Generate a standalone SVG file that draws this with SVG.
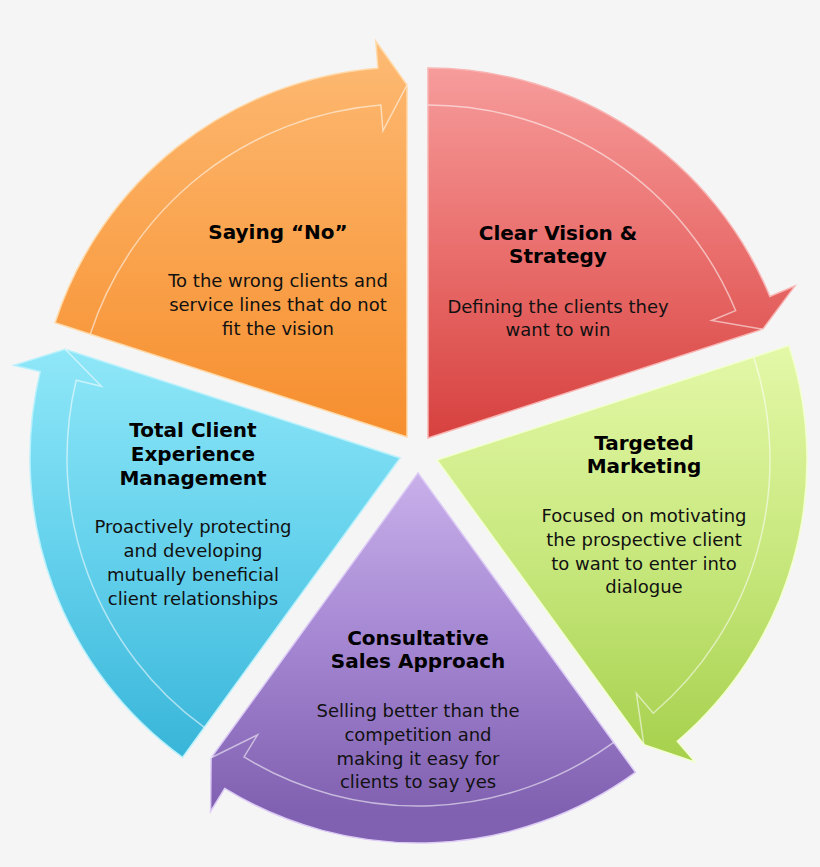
<svg xmlns="http://www.w3.org/2000/svg" width="820" height="867" viewBox="0 0 820 867">
  <defs>
    <linearGradient id="gOrange" gradientUnits="userSpaceOnUse" x1="0" y1="41" x2="0" y2="437">
      <stop offset="0" stop-color="#FDBA74"/>
      <stop offset="0.5" stop-color="#FAA44F"/>
      <stop offset="1" stop-color="#F68E2E"/>
    </linearGradient>
    <linearGradient id="gRed" gradientUnits="userSpaceOnUse" x1="0" y1="68" x2="0" y2="438">
      <stop offset="0" stop-color="#F69C9B"/>
      <stop offset="0.5" stop-color="#E96E6C"/>
      <stop offset="1" stop-color="#D6413F"/>
    </linearGradient>
    <linearGradient id="gGreen" gradientUnits="userSpaceOnUse" x1="0" y1="345" x2="0" y2="762">
      <stop offset="0" stop-color="#E4F8A8"/>
      <stop offset="0.5" stop-color="#C8E87E"/>
      <stop offset="1" stop-color="#A6D04C"/>
    </linearGradient>
    <linearGradient id="gPurple" gradientUnits="userSpaceOnUse" x1="0" y1="473" x2="0" y2="812">
      <stop offset="0" stop-color="#C9B0EA"/>
      <stop offset="0.5" stop-color="#A486D2"/>
      <stop offset="1" stop-color="#8060B0"/>
    </linearGradient>
    <linearGradient id="gBlue" gradientUnits="userSpaceOnUse" x1="0" y1="349" x2="0" y2="758">
      <stop offset="0" stop-color="#8FE7F8"/>
      <stop offset="0.5" stop-color="#64D1EC"/>
      <stop offset="1" stop-color="#38B5D9"/>
    </linearGradient>
  </defs>
  <style>
    .seg { stroke-width: 1.5; stroke-linejoin: miter; }
    .hl { fill: none; stroke: #FFFFFF; stroke-opacity: 0.55; stroke-width: 1.5; }
    .t { font-family: "DejaVu Sans", "Liberation Sans", sans-serif; font-weight: bold; font-size: 20px; fill: #000000; text-anchor: middle; }
    .b { font-family: "DejaVu Sans", "Liberation Sans", sans-serif; font-size: 18px; fill: #111111; text-anchor: middle; }
  </style>
  <rect x="0" y="0" width="820" height="867" fill="#F5F5F5"/>

  <g id="connectors"></g>

  <g id="node-saying-no">
    <path class="seg" fill="url(#gOrange)" stroke="#FFD9A8" d="M407,437 L55.11,322.66 A370,370 0 0 1 377.97,68.14 L375.85,41.22 L407,85 Z"/>
    <path class="hl" d="M90.30,334.10 A333,333 0 0 1 380.87,105.03 L382.91,130.94 L407,85"/>
    <text class="t" x="278" y="239">Saying “No”</text>
    <text class="b" x="278" y="287">To the wrong clients and</text>
    <text class="b" x="278" y="311">service lines that do not</text>
    <text class="b" x="278" y="335">fit the vision</text>
  </g>

  <g id="node-clear-vision">
    <path class="seg" fill="url(#gRed)" stroke="#F8B4B2" d="M428,438 L428,68 A370,370 0 0 1 769.84,296.41 L794.78,286.08 L762.77,329.22 Z"/>
    <path class="hl" d="M428,105 A333,333 0 0 1 735.65,310.57 L711.63,320.52 L762.77,329.22"/>
    <text class="t" x="558" y="240">Clear Vision &amp;</text>
    <text class="t" x="558" y="263">Strategy</text>
    <text class="b" x="558" y="313">Defining the clients they</text>
    <text class="b" x="558" y="336">want to win</text>
  </g>

  <g id="node-targeted-marketing">
    <path class="seg" fill="url(#gGreen)" stroke="#F2FFCF" d="M437,460 L788.89,345.66 A370,370 0 0 1 677.30,741.35 L694.83,761.88 L643.90,744.78 Z"/>
    <path class="hl" d="M753.70,357.10 A333,333 0 0 1 653.27,713.22 L636.38,693.45 L643.90,744.78"/>
    <text class="t" x="644" y="450">Targeted</text>
    <text class="t" x="644" y="473">Marketing</text>
    <text class="b" x="644" y="522">Focused on motivating</text>
    <text class="b" x="644" y="546">the prospective client</text>
    <text class="b" x="644" y="570">to want to enter into</text>
    <text class="b" x="644" y="593">dialogue</text>
  </g>

  <g id="node-consultative-sales">
    <path class="seg" fill="url(#gPurple)" stroke="#DCCBF5" d="M418,473 L635.48,772.34 A370,370 0 0 1 224.67,788.48 L210.57,811.50 L211.10,757.78 Z"/>
    <path class="hl" d="M613.73,742.40 A333,333 0 0 1 244.01,756.93 L257.59,734.76 L211.10,757.78"/>
    <text class="t" x="418" y="645">Consultative</text>
    <text class="t" x="418" y="668">Sales Approach</text>
    <text class="b" x="418" y="717">Selling better than the</text>
    <text class="b" x="418" y="741">competition and</text>
    <text class="b" x="418" y="765">making it easy for</text>
    <text class="b" x="418" y="788">clients to say yes</text>
  </g>

  <g id="node-total-client-experience">
    <path class="seg" fill="url(#gBlue)" stroke="#B8F1FC" d="M400,458 L182.52,757.34 A370,370 0 0 1 40.22,371.62 L13.97,365.32 L65.23,349.22 Z"/>
    <path class="hl" d="M204.27,727.40 A333,333 0 0 1 76.20,380.26 L101.48,386.33 L65.23,349.22"/>
    <text class="t" x="193" y="437">Total Client</text>
    <text class="t" x="193" y="461">Experience</text>
    <text class="t" x="193" y="485">Management</text>
    <text class="b" x="193" y="533">Proactively protecting</text>
    <text class="b" x="193" y="557">and developing</text>
    <text class="b" x="193" y="581">mutually beneficial</text>
    <text class="b" x="193" y="605">client relationships</text>
  </g>
</svg>
